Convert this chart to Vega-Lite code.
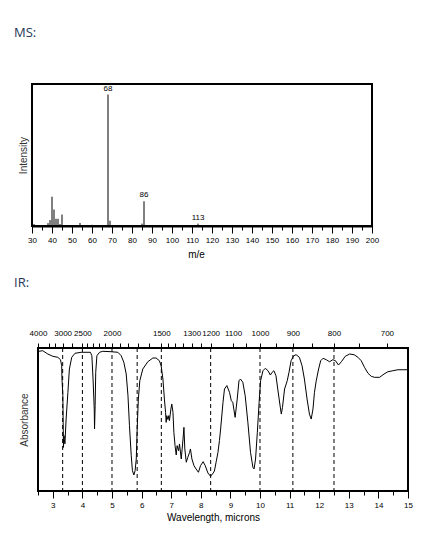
{
  "$schema": "https://vega.github.io/schema/vega-lite/v6.json",
  "padding": {"left": 13, "top": 26, "right": 5, "bottom": 5},
  "spacing": 17,
  "config": {
    "view": {"stroke": "black", "strokeWidth": 2},
    "font": "Liberation Sans",
    "axis": {
      "labelFont": "Liberation Sans",
      "labelFontSize": 8,
      "labelColor": "black",
      "tickColor": "black",
      "domainColor": "black",
      "domainWidth": 2,
      "grid": false,
      "labelFlush": false,
      "labelOverlap": false,
      "titleFont": "Liberation Sans",
      "titleFontWeight": "normal",
      "titleColor": "black",
      "titleFontSize": 10
    },
    "title": {"font": "Open Sans", "fontSize": 13, "fontWeight": "normal", "color": "#243659", "anchor": "start", "frame": "group"}
  },
  "datasets": {
    "ms": [
      {"mz": 31, "int": 1.5},
      {"mz": 38, "int": 2.2},
      {"mz": 39, "int": 4.5},
      {"mz": 40, "int": 22.3},
      {"mz": 41, "int": 12.5},
      {"mz": 42, "int": 5.5},
      {"mz": 43, "int": 5.5},
      {"mz": 44, "int": 1.5},
      {"mz": 45, "int": 8.7},
      {"mz": 54, "int": 2.3},
      {"mz": 60, "int": 0.9},
      {"mz": 68, "int": 100, "label": "68"},
      {"mz": 69, "int": 4},
      {"mz": 85, "int": 1.8},
      {"mz": 86, "int": 18.8, "label": "86"},
      {"mz": 113, "int": 1.8, "label": "113"}
    ],
    "irref": [
      {"um": 3.333}, {"um": 4.0}, {"um": 5.0}, {"um": 5.85}, {"um": 6.667},
      {"um": 8.333}, {"um": 10.0}, {"um": 11.111}, {"um": 12.5}
    ],
    "frame": [{"part": "plot"}],
    "ir": [
      {"um": 2.53, "t": 97.7}, {"um": 2.66, "t": 98.1}, {"um": 2.83, "t": 95.8}, {"um": 3.0, "t": 94.2},
      {"um": 3.17, "t": 93.5}, {"um": 3.26, "t": 91.8}, {"um": 3.3, "t": 87.6}, {"um": 3.31, "t": 78.3},
      {"um": 3.34, "t": 66.6}, {"um": 3.35, "t": 48}, {"um": 3.36, "t": 30.5}, {"um": 3.38, "t": 38.7},
      {"um": 3.39, "t": 36}, {"um": 3.41, "t": 33}, {"um": 3.45, "t": 50.3}, {"um": 3.51, "t": 69},
      {"um": 3.56, "t": 85.3}, {"um": 3.64, "t": 93.5}, {"um": 3.75, "t": 96.3}, {"um": 3.96, "t": 97},
      {"um": 4.27, "t": 97}, {"um": 4.32, "t": 94.6}, {"um": 4.36, "t": 78.3}, {"um": 4.4, "t": 57.3},
      {"um": 4.41, "t": 43.4}, {"um": 4.43, "t": 59.7}, {"um": 4.45, "t": 83}, {"um": 4.49, "t": 94.6},
      {"um": 4.58, "t": 97}, {"um": 4.69, "t": 97.7}, {"um": 4.97, "t": 97.4}, {"um": 5.2, "t": 97},
      {"um": 5.31, "t": 94.6}, {"um": 5.4, "t": 90}, {"um": 5.48, "t": 81.8}, {"um": 5.54, "t": 66.6},
      {"um": 5.59, "t": 45.7}, {"um": 5.65, "t": 24.7}, {"um": 5.69, "t": 14.2}, {"um": 5.74, "t": 11.2},
      {"um": 5.78, "t": 14.2}, {"um": 5.82, "t": 22.4}, {"um": 5.85, "t": 43.4}, {"um": 5.89, "t": 64.3},
      {"um": 5.94, "t": 77.1}, {"um": 6.04, "t": 85.3}, {"um": 6.21, "t": 90.4}, {"um": 6.38, "t": 93},
      {"um": 6.49, "t": 93}, {"um": 6.6, "t": 91.1}, {"um": 6.66, "t": 87.6}, {"um": 6.72, "t": 78.3},
      {"um": 6.77, "t": 64.3}, {"um": 6.81, "t": 55}, {"um": 6.83, "t": 48}, {"um": 6.85, "t": 52.7},
      {"um": 6.89, "t": 50}, {"um": 6.92, "t": 52.7}, {"um": 6.94, "t": 49.2}, {"um": 6.99, "t": 57.3},
      {"um": 7.02, "t": 60.8}, {"um": 7.06, "t": 55}, {"um": 7.09, "t": 41}, {"um": 7.13, "t": 31.7},
      {"um": 7.17, "t": 25.2}, {"um": 7.2, "t": 31.7}, {"um": 7.25, "t": 28.2}, {"um": 7.28, "t": 32.9},
      {"um": 7.34, "t": 22.4}, {"um": 7.4, "t": 36.4}, {"um": 7.43, "t": 44.5}, {"um": 7.46, "t": 29.4},
      {"um": 7.51, "t": 20.1}, {"um": 7.56, "t": 23.5}, {"um": 7.62, "t": 27}, {"um": 7.65, "t": 29.4},
      {"um": 7.7, "t": 22.4}, {"um": 7.77, "t": 17.7}, {"um": 7.84, "t": 15.4}, {"um": 7.92, "t": 13.1},
      {"um": 7.99, "t": 17.7}, {"um": 8.08, "t": 20.5}, {"um": 8.15, "t": 17.7}, {"um": 8.24, "t": 12.6},
      {"um": 8.33, "t": 10.3}, {"um": 8.42, "t": 12.6}, {"um": 8.46, "t": 14}, {"um": 8.52, "t": 20.5},
      {"um": 8.58, "t": 27}, {"um": 8.63, "t": 35.2}, {"um": 8.67, "t": 43.4}, {"um": 8.75, "t": 62},
      {"um": 8.8, "t": 71.3}, {"um": 8.88, "t": 73.7}, {"um": 8.97, "t": 69}, {"um": 9.03, "t": 63.2},
      {"um": 9.08, "t": 62}, {"um": 9.16, "t": 51.5}, {"um": 9.23, "t": 64.3}, {"um": 9.29, "t": 77.1},
      {"um": 9.34, "t": 78.3}, {"um": 9.42, "t": 76}, {"um": 9.5, "t": 66.6}, {"um": 9.59, "t": 48},
      {"um": 9.68, "t": 27}, {"um": 9.76, "t": 16.6}, {"um": 9.8, "t": 15.4}, {"um": 9.85, "t": 22.4},
      {"um": 9.91, "t": 41}, {"um": 9.97, "t": 62}, {"um": 10.02, "t": 77.1}, {"um": 10.1, "t": 84.1},
      {"um": 10.18, "t": 85.8}, {"um": 10.27, "t": 84.1}, {"um": 10.35, "t": 81.1}, {"um": 10.41, "t": 83},
      {"um": 10.47, "t": 84.1}, {"um": 10.54, "t": 80.6}, {"um": 10.6, "t": 71.3}, {"um": 10.67, "t": 60.8},
      {"um": 10.72, "t": 53.8}, {"um": 10.76, "t": 58.5}, {"um": 10.83, "t": 71.3}, {"um": 10.92, "t": 77.1},
      {"um": 10.98, "t": 83}, {"um": 11.05, "t": 91.1}, {"um": 11.14, "t": 94.6}, {"um": 11.22, "t": 95.3},
      {"um": 11.33, "t": 93.5}, {"um": 11.42, "t": 87.6}, {"um": 11.5, "t": 78.3}, {"um": 11.59, "t": 64.3},
      {"um": 11.67, "t": 53.8}, {"um": 11.73, "t": 50.3}, {"um": 11.79, "t": 57.3}, {"um": 11.84, "t": 69},
      {"um": 11.9, "t": 77.1}, {"um": 11.98, "t": 85.3}, {"um": 12.05, "t": 91.1}, {"um": 12.13, "t": 92.8},
      {"um": 12.24, "t": 91.8}, {"um": 12.35, "t": 90.4}, {"um": 12.46, "t": 91.8}, {"um": 12.55, "t": 91.1},
      {"um": 12.65, "t": 88.1}, {"um": 12.75, "t": 90.4}, {"um": 12.88, "t": 94.2}, {"um": 13.03, "t": 95.8},
      {"um": 13.18, "t": 95.3}, {"um": 13.31, "t": 93.5}, {"um": 13.42, "t": 91.1}, {"um": 13.53, "t": 86.5},
      {"um": 13.65, "t": 82.3}, {"um": 13.76, "t": 80.2}, {"um": 13.87, "t": 79.5}, {"um": 14.04, "t": 79.5},
      {"um": 14.19, "t": 81.8}, {"um": 14.32, "t": 83.4}, {"um": 14.49, "t": 84.1}, {"um": 14.66, "t": 84.8},
      {"um": 14.98, "t": 84.8}
    ]
  },
  "vconcat": [
    {
      "title": {"text": "MS:", "dx": -18, "offset": 44},
      "width": 340,
      "height": 142,
      "data": {"name": "ms"},
      "encoding": {
        "x": {
          "field": "mz", "type": "quantitative",
          "scale": {"domain": [30, 200], "nice": false, "zero": false},
          "axis": {
            "title": "m/e",
            "values": [30,35,40,45,50,55,60,65,70,75,80,85,90,95,100,105,110,115,120,125,130,135,140,145,150,155,160,165,170,175,180,185,190,195,200],
            "labelExpr": "datum.value % 10 === 0 ? datum.label : ''",
            "labelOverlap": false,
            "labelFlush": false,
            "tickSize": {"condition": {"test": "datum.value % 10 === 0", "value": 7}, "value": 4},
            "labelPadding": 3,
            "titlePadding": 5,
            "titleX": 164
          }
        },
        "y": {
          "field": "int", "type": "quantitative",
          "scale": {"domain": [0, 108], "nice": false},
          "axis": {"title": "Intensity", "ticks": false, "labels": false, "domain": false, "titlePadding": 4, "titleColor": "#333333"}
        }
      },
      "layer": [
        {
          "mark": {"type": "rule", "color": "black", "strokeWidth": 1},
          "encoding": {
            "y2": {"datum": 0}
          }
        },
        {
          "transform": [{"filter": "datum.label != null"}],
          "mark": {"type": "text", "baseline": "bottom", "dy": -2, "fontSize": 8, "font": "Liberation Sans", "fill": "black"},
          "encoding": {
            "text": {"field": "label"}
          }
        }
      ]
    },
    {
      "title": {"text": "IR:", "dx": -18, "offset": 39},
      "width": 376,
      "height": 143,
      "view": {"stroke": null},
      "layer": [
        {
          "data": {"name": "frame"},
          "mark": {"type": "rect", "fillOpacity": 0, "stroke": "black", "strokeWidth": 2},
          "encoding": {
            "x": {"datum": 2.5, "type": "quantitative", "scale": {"domain": [2.2973, 15], "nice": false, "zero": false}, "axis": null},
            "x2": {"datum": 15},
            "y": {"datum": 0, "type": "quantitative", "scale": {"domain": [0, 100], "nice": false},
                  "axis": {"title": "Absorbance", "ticks": false, "labels": false, "domain": false, "titlePadding": 3, "titleColor": "#333333"}},
            "y2": {"datum": 100}
          }
        },
        {
          "data": {"name": "irref"},
          "mark": {"type": "rule", "strokeDash": [4, 3], "color": "black", "strokeWidth": 1},
          "encoding": {
            "x": {
              "field": "um", "type": "quantitative",
              "axis": {
                "orient": "bottom",
                "title": "Wavelength, microns",
                "domain": false,
                "values": [2.5,3,3.5,4,4.5,5,5.5,6,6.5,7,7.5,8,8.5,9,9.5,10,10.5,11,11.5,12,12.5,13,13.5,14,14.5,15],
                "labelExpr": "datum.value % 1 === 0 ? format(datum.value, 'd') : ''",
                "labelOverlap": false,
                "labelFlush": false,
                "tickSize": {"condition": {"test": "datum.value % 1 === 0", "value": 7}, "value": 4},
                "labelPadding": 3,
                "titlePadding": 3,
                "titleX": 181
              }
            }
          }
        },
        {
          "data": {"name": "ir"},
          "mark": {"type": "line", "color": "black", "strokeWidth": 1},
          "encoding": {
            "x": {
              "field": "um", "type": "quantitative",
              "axis": {
                "orient": "top",
                "title": null,
                "domain": false,
                "values": [2.5, 2.857, 3.077, 3.333, 3.636, 4, 4.167, 4.348, 4.545, 4.762, 5, 5.263, 5.556, 5.882, 6.25, 6.667, 6.897, 7.143, 7.407, 7.692, 8, 8.333, 9.091, 9.524, 10, 10.526, 11.111, 11.765, 12.5, 13.333, 14.286],
                "labelExpr": "indexof([4000,3000,2500,2000,1500,1300,1200,1100,1000,900,800,700], round(10000/datum.value)) >= 0 ? '' + round(10000/datum.value) : ''",
                "labelOverlap": false,
                "labelFlush": false,
                "tickSize": 5,
                "labelPadding": 6
              }
            },
            "y": {
              "field": "t", "type": "quantitative",
              "axis": {"title": "Absorbance", "ticks": false, "labels": false, "domain": false, "titlePadding": 3, "titleColor": "#333333"}
            }
          }
        }
      ],
      "resolve": {"axis": {"x": "independent"}}
    }
  ]
}
